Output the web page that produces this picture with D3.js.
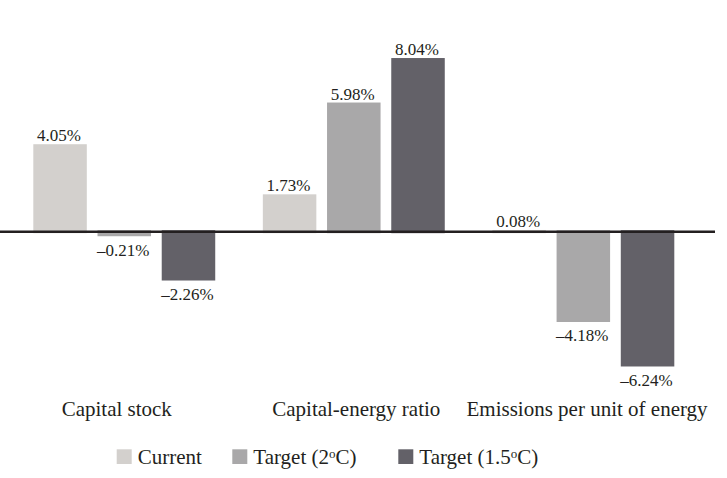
<!DOCTYPE html>
<html>
<head>
<meta charset="utf-8">
<script src="https://cdn.jsdelivr.net/npm/d3@7"></script>
<style>
  html, body { margin: 0; padding: 0; background: #fff; }
  svg { display: block; }
  text { font-family: "Liberation Serif", "Times New Roman", serif; fill: #231f20; }
</style>
</head>
<body>
<svg id="chart" width="727" height="478"></svg>
<script>
// ---- data ----
const categories = ["Capital stock", "Capital-energy ratio", "Emissions per unit of energy"];
const seriesNames = ["Current", "Target (2oC)", "Target (1.5oC)"];
const current = [4.05, 1.73, 0.08];
const target2 = [-0.21, 5.98, -4.18];
const target15 = [-2.26, 8.04, -6.24];
const seriesColors = ["#d3d0cd", "#a9a8a9", "#636168"];

const seriesValues = [current, target2, target15];
const rows = categories.map((c, i) => ({
  category: c,
  values: seriesNames.map((s, j) => ({ series: s, idx: j, value: seriesValues[j][i] }))
}));

// ---- layout ----
const svg = d3.select("#chart");

const x0 = d3.scaleBand().domain(categories).range([33.3, 674.3]).paddingInner(0.2074).paddingOuter(0);
const x1 = d3.scaleBand().domain(seriesNames).range([0, x0.bandwidth()]).paddingInner(0.1667).paddingOuter(0);
const y = d3.scaleLinear().domain([-7, 9]).range([382.9, 37.3]);

const fmt = v => (v < 0 ? "\u2013" : "") + Math.abs(v).toFixed(2) + "%";

const g = svg.selectAll("g.grp").data(rows).join("g")
  .attr("class", "grp")
  .attr("transform", d => `translate(${x0(d.category)},0)`);

g.selectAll("rect").data(d => d.values).join("rect")
  .attr("x", d => x1(d.series))
  .attr("width", x1.bandwidth())
  .attr("y", d => d.value >= 0 ? y(d.value) : y(0) - 1.5)
  .attr("height", d => Math.abs(y(d.value) - y(0)) + 1.5)
  .attr("fill", d => seriesColors[d.idx]);

g.selectAll("text.val").data(d => d.values).join("text")
  .attr("class", "val")
  .attr("x", d => x1(d.series) + x1.bandwidth() / 2 - 1)
  .attr("y", d => d.value >= 0 ? y(d.value) - 3 : y(d.value) + 19.5)
  .attr("text-anchor", "middle")
  .style("font-size", "17px")
  .text(d => fmt(d.value));

// zero line
svg.append("line")
  .attr("x1", 0).attr("x2", 715)
  .attr("y1", y(0)).attr("y2", y(0))
  .attr("stroke", "#231f20").attr("stroke-width", 2.6);

// category labels
const catDx = [-7.5, 2.5, 3.7];
svg.selectAll("text.cat").data(categories).join("text")
  .attr("class", "cat")
  .attr("x", (d, i) => x0(d) + x0.bandwidth() / 2 + catDx[i])
  .attr("y", 416)
  .attr("text-anchor", "middle")
  .style("font-size", "21px")
  .text(d => d);

// legend
const legendX = [116.7, 232.3, 398.3];
const lg = svg.selectAll("g.leg").data(seriesNames).join("g")
  .attr("class", "leg")
  .attr("transform", (d, i) => `translate(${legendX[i]},0)`);
lg.append("rect")
  .attr("x", 0).attr("y", 449.3).attr("width", 15).attr("height", 14.7)
  .attr("fill", (d, i) => seriesColors[i]);
const lt = lg.append("text")
  .attr("x", 21).attr("y", 464)
  .style("font-size", "21px");
lt.each(function(d) {
  const t = d3.select(this);
  const m = d.match(/^(.*\d)o(C\))$/);
  if (m) {
    t.append("tspan").text(m[1]);
    t.append("tspan").attr("dy", -6).style("font-size", "13px").text("o");
    t.append("tspan").attr("dy", 6).text(m[2]);
  } else {
    t.text(d);
  }
});
</script>
</body>
</html>
